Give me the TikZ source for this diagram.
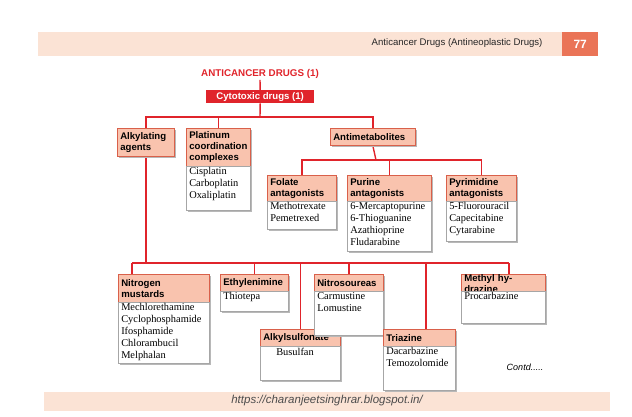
\documentclass[tikz,border=0pt]{standalone}
\usepackage{fontspec}
\setmainfont{Liberation Serif}
\setsansfont{Liberation Sans}
\usetikzlibrary{backgrounds}
\definecolor{linkc}{HTML}{E0242B}
\definecolor{hdrfill}{HTML}{F9C3AE}
\definecolor{hdrline}{HTML}{D9604A}
\definecolor{bandc}{HTML}{FBE3D5}
\definecolor{pagec}{HTML}{EA7457}
\definecolor{shadowc}{HTML}{B8B8B8}
\newcommand\hfnt{\sffamily\bfseries\fontsize{9.6}{11.2}\selectfont}
\newcommand\bfnt{\rmfamily\fontsize{10.4}{11.8}\selectfont}
\newcommand\dbox[8]{%
  \pgfmathsetmacro\tw{#4-6}%
  \pgfmathsetmacro\bh{#6-3}%
  \fill[shadowc] (#2+2,#3+2) rectangle (#2+#4+2,#3+#5+#6+2);
  \node[hdr, minimum width=#4, text width=\tw pt, minimum height=#5] (#1h) at (#2,#3) {#7};
  \node[bod, minimum width=#4, minimum height=#6] (#1b) at (#2,#3+#5) {\parbox[c][\bh pt][t]{\tw pt}{\raggedright #8}};
}
\newcommand\hbx[6]{%
  \pgfmathsetmacro\tw{#4-6}%
  \fill[shadowc] (#2+2,#3+2) rectangle (#2+#4+2,#3+#5+2);
  \node[hdr, minimum width=#4, text width=\tw pt, minimum height=#5] (#1h) at (#2,#3) {#6};
}
\begin{document}
\begin{tikzpicture}[x=1pt,y=-1pt,
  hdr/.style={draw=hdrline, fill=hdrfill, anchor=north west, inner xsep=3pt, inner ysep=0pt, align=left, font=\hfnt, line width=0.6pt},
  bod/.style={draw=gray!70, fill=white, anchor=north west, inner xsep=3pt, inner ysep=0pt, font=\bfnt, line width=0.5pt},
  link/.style={draw=linkc, line width=1.4pt}]
\useasboundingbox (0,0) rectangle (632,416);
% header band
\fill[bandc] (38,32) rectangle (598,56);
\node[fill=pagec, minimum width=36, minimum height=24, anchor=north west, inner sep=0pt, text=white, font=\sffamily\bfseries\fontsize{12}{14}\selectfont] (pg) at (562,32) {77};
\node[anchor=east, font=\sffamily\fontsize{9.6}{11}\selectfont, text=black!85] (ttl) at (546,43) {Anticancer Drugs (Antineoplastic Drugs)};
% footer band
\fill[bandc] (44,392) rectangle (610,411);
\node[font=\sffamily\itshape\fontsize{11.5}{13}\selectfont, text=black!70] (url) at (327,401) {https://charanjeetsinghrar.blogspot.in/};
% title
\node[font=\sffamily\bfseries\fontsize{9.8}{11}\selectfont, text=linkc, inner sep=1pt] (title) at (260,74) {ANTICANCER DRUGS (1)};
\node[fill=linkc, anchor=north west, minimum width=108, minimum height=13, inner sep=0pt, text=white, font=\sffamily\bfseries\fontsize{9.6}{10}\selectfont] (cyto) at (206,90) {Cytotoxic drugs (1)};
% level 1
\hbx{alk}{117}{128}{57}{28}{Alkylating\\agents}
\dbox{plat}{186}{128}{64}{38}{44}{Platinum\\coordination\\complexes}{Cisplatin\\Carboplatin\\Oxaliplatin}
\hbx{anti}{330}{128}{85}{17}{Antimetabolites}
% antimetabolites
\dbox{fol}{267}{175}{69}{26}{28}{Folate\\antagonists}{Methotrexate\\Pemetrexed}
\dbox{pur}{347}{175}{84}{26}{50}{Purine\\antagonists}{6-Mercaptopurine\\6-Thioguanine\\Azathioprine\\Fludarabine}
\dbox{pyr}{446}{175}{70}{26}{40}{Pyrimidine\\antagonists}{5-Fluorouracil\\Capecitabine\\Cytarabine}
% alkylating
\dbox{nit}{118}{274}{91}{28}{61}{Nitrogen\\mustards}{Mechlorethamine\\Cyclophosphamide\\Ifosphamide\\Chlorambucil\\Melphalan}
\dbox{eth}{220}{274}{68}{17}{20}{Ethylenimine}{Thiotepa}
\dbox{sul}{260}{329}{80}{17}{34}{Alkylsulfonate}{\hspace*{13pt}Busulfan}
\dbox{nso}{314}{274}{69}{17}{44}{Nitrosoureas}{Carmustine\\Lomustine}
\dbox{tri}{383}{329}{72}{17}{44}{Triazine}{Dacarbazine\\Temozolomide}
\dbox{mhy}{461}{274}{84}{17}{32}{Methyl hydrazine}{Procarbazine}
\node[font=\sffamily\itshape\fontsize{9}{10}\selectfont] (contd) at (525,367) {Contd.....};
% buses
\coordinate (b1) at (260,117);
\coordinate (b2) at (376,160);
\coordinate (b3l) at (132,263);
\coordinate (b3r) at (509,263);
% connectors
\begin{scope}[on background layer]
\draw[link] (title.south) -- (cyto.north);
\draw[link] (cyto.south) -- (b1);
\draw[link] (alkh.north) |- (b1) -| (antih.north);
\draw[link] (plath.north) -- (plath.north |- b1);
\draw[link] (antih.south) -- (b2);
\draw[link] (folh.north) |- (b2) -| (pyrh.north);
\draw[link] (purh.north) -- (purh.north |- b2);
\draw[link] (alkh.south) -- (alkh.south |- b3l);
\draw[link] (b3l) -- (b3r);
\draw[link] ([xshift=14pt]nith.north west) -- (b3l);
\draw[link] (ethh.north) -- (ethh.north |- b3l);
\draw[link] (sulh.north) -- (sulh.north |- b3l);
\draw[link] (nsoh.north) -- (nsoh.north |- b3l);
\draw[link] ([xshift=43pt]trih.north west) -- ([xshift=43pt]trih.north west |- b3l);
\draw[link] ([xshift=48pt]mhyh.north west) -- (b3r);
\end{scope}
\end{tikzpicture}
\end{document}
